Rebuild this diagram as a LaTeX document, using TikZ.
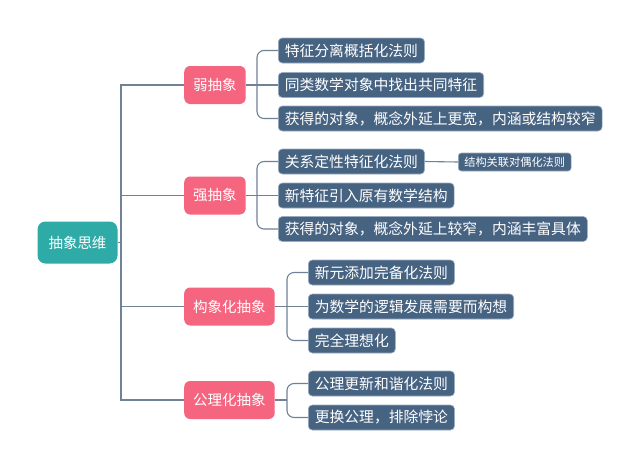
\documentclass[tikz,border=0pt]{standalone}
\usepackage{fontspec}
\newfontfamily\cjk{Noto Sans CJK SC}
\definecolor{teal1}{HTML}{2EABA7}
\definecolor{pink1}{HTML}{F5657F}
\definecolor{leaf1}{HTML}{476382}
\definecolor{leafedge}{HTML}{9AACBF}
\definecolor{line1}{HTML}{6F8296}
\tikzset{
  rootbox/.style={fill=teal1, text=white, rounded corners=8pt, minimum height=42pt, inner xsep=11pt, inner ysep=0pt, font=\cjk\fontsize{14.5pt}{16pt}\selectfont},
  pinkbox/.style={fill=pink1, text=white, rounded corners=6pt, minimum height=38pt, inner xsep=9pt, inner ysep=0pt, font=\cjk\fontsize{14.5pt}{16pt}\selectfont},
  leafbox/.style={fill=leaf1, draw=leafedge, line width=0.6pt, text=white, rounded corners=4pt, minimum height=25pt, inner xsep=6.5pt, inner ysep=0pt, anchor=west, font=\cjk\fontsize{14.8pt}{16pt}\selectfont},
  subbox/.style={fill=leaf1, draw=leafedge, line width=0.6pt, text=white, rounded corners=3pt, minimum height=18pt, inner xsep=6pt, inner ysep=0pt, anchor=west, font=\cjk\fontsize{11.2pt}{13pt}\selectfont},
  conn/.style={draw=line1, line width=1.1pt},
  brk/.style={conn, rounded corners=7pt}
}
\begin{document}
\begin{tikzpicture}[x=1pt,y=-1pt]
\useasboundingbox[fill=white] (0,0) rectangle (640,464);
% root
\node[rootbox] (root) at (77.5,242.5) {抽象思维};
% pink nodes
\node[pinkbox, anchor=west] (wk) at (184,85) {弱抽象};
\node[pinkbox, anchor=west] (sk) at (184,195.5) {强抽象};
\node[pinkbox, anchor=west] (gk) at (184,306.5) {构象化抽象};
\node[pinkbox, anchor=west] (ak) at (184,400) {公理化抽象};
% trunk
\coordinate (rt) at (121,242.5);
\draw[conn] (root.east) -- (rt);
\draw[conn] (wk.west) -| (rt) |- (ak.west);
\draw[conn] (sk.west) -- (rt |- sk.west);
\draw[conn] (gk.west) -- (rt |- gk.west);
% weak leaves
\node[leafbox] (w1) at (278,50.5) {特征分离概括化法则};
\node[leafbox] (w2) at (278,85) {同类数学对象中找出共同特征};
\node[leafbox] (w3) at (278,118.5) {获得的对象，概念外延上更宽，内涵或结构较窄};
\coordinate (wb) at (257,85);
\draw[brk] (w1.west) -| (wb) |- (w3.west);
\draw[conn] (wk.east) -- (w2.west);
% strong leaves
\node[leafbox] (s1) at (278,161.5) {关系定性特征化法则};
\node[leafbox] (s2) at (278,195.5) {新特征引入原有数学结构};
\node[leafbox] (s3) at (278,229) {获得的对象，概念外延上较窄，内涵丰富具体};
\node[subbox] (s4) at (458,162) {结构关联对偶化法则};
\coordinate (sb) at (257,195.5);
\draw[brk] (s1.west) -| (sb) |- (s3.west);
\draw[conn] (sk.east) -- (s2.west);
\draw[conn] (s1.east) -- (s4.west);
% construct leaves
\node[leafbox] (g1) at (308,272.5) {新元添加完备化法则};
\node[leafbox] (g2) at (308,306.5) {为数学的逻辑发展需要而构想};
\node[leafbox] (g3) at (308,340.5) {完全理想化};
\coordinate (gb) at (287,306.5);
\draw[brk] (g1.west) -| (gb) |- (g3.west);
\draw[conn] (gk.east) -- (g2.west);
% axiom leaves
\node[leafbox] (a1) at (308,383.5) {公理更新和谐化法则};
\node[leafbox] (a2) at (308,417.5) {更换公理，排除悖论};
\coordinate (ab) at (287,400);
\draw[brk] (a1.west) -| (ab) |- (a2.west);
\draw[conn] (ak.east) -- (ab);
\end{tikzpicture}
\end{document}
